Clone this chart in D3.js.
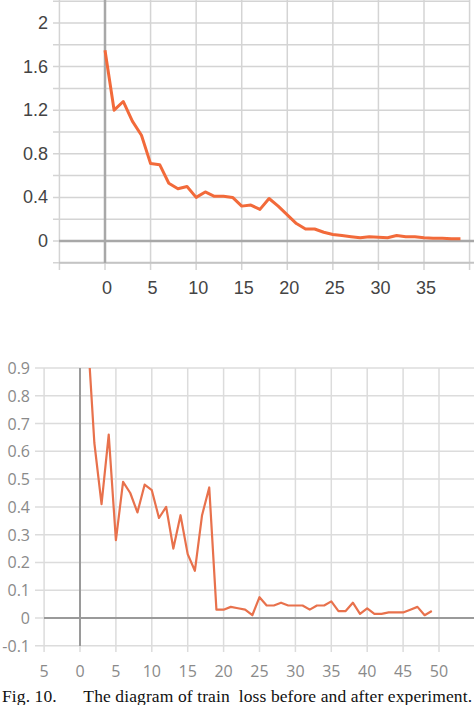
<!DOCTYPE html>
<html><head><meta charset="utf-8">
<script src="https://cdn.jsdelivr.net/npm/d3@7"></script>
<style>body{margin:0;background:#fff}svg{display:block}</style>
</head><body><svg id="svg" width="474" height="705"></svg>
<script>
// loss before the experiment (epochs 0..39)
const lossBefore = [1.75,1.2,1.28,1.1,0.97,0.71,0.7,0.53,0.48,0.5,0.4,0.45,0.41,0.41,0.4,0.32,0.33,0.29,0.39,0.32,
  0.24,0.16,0.11,0.11,0.08,0.06,0.05,0.04,0.03,0.04,0.035,0.03,0.05,0.04,0.04,0.03,0.025,0.025,0.02,0.02];
// loss after the experiment (epochs 1..49)
const lossAfter = [1.05,0.63,0.41,0.66,0.28,0.49,0.45,0.38,0.48,0.46,0.36,0.4,0.25,0.37,0.23,0.17,0.37,0.47,0.03,
  0.03,0.04,0.035,0.03,0.01,0.075,0.045,0.045,0.055,0.045,0.045,0.045,0.03,0.045,0.045,0.06,0.025,0.025,0.055,0.015,
  0.035,0.015,0.015,0.02,0.02,0.02,0.03,0.04,0.01,0.025];
const topYTicks = [0,0.4,0.8,1.2,1.6,2];
const topXTicks = [0,5,10,15,20,25,30,35];
const botYTicks = [-0.1,0,0.1,0.2,0.3,0.4,0.5,0.6,0.7,0.8,0.9];
const botXTicks = [-5,0,5,10,15,20,25,30,35,40,45,50,55];
const caption = "Fig. 10.      The diagram of train  loss before and after experiment.";

const svg = d3.select("#svg");

//Верхний график
const x1 = d3.scaleLinear().domain([0, 35]).range([105, 424]);
const y1 = d3.scaleLinear().domain([0, 2]).range([241, 23]);
const g1 = svg.append("g");
d3.range(-0.2, 2.3, 0.2).forEach(v => {
    g1.append("line").attr("x1", 53).attr("x2", 469).attr("y1", y1(v)).attr("y2", y1(v))
        .attr("stroke", "#d4d4d4").attr("stroke-width", 1.5);
});
d3.range(-5, 41, 5).forEach(v => {
    g1.append("line").attr("x1", x1(v)).attr("x2", x1(v)).attr("y1", 0).attr("y2", 270)
        .attr("stroke", "#d4d4d4").attr("stroke-width", 1.5);
});
g1.append("line").attr("x1", 59).attr("x2", 474).attr("y1", y1(0)).attr("y2", y1(0)).attr("stroke", "#a8a8a8").attr("stroke-width", 2.5);
g1.append("line").attr("x1", 59).attr("x2", 474).attr("y1", y1(-0.2)).attr("y2", y1(-0.2)).attr("stroke", "#c4c4c4").attr("stroke-width", 2);
g1.append("line").attr("x1", x1(0)).attr("x2", x1(0)).attr("y1", 0).attr("y2", 263).attr("stroke", "#a8a8a8").attr("stroke-width", 2.5);
g1.selectAll(".yt").data(topYTicks).enter().append("text")
    .attr("x", 48).attr("y", d => y1(d) + 6).attr("text-anchor", "end")
    .attr("font-family", "Liberation Sans, Arial").attr("font-size", 18).attr("fill", "#444")
    .text(d => d);
g1.selectAll(".xt").data(topXTicks).enter().append("text")
    .attr("x", d => x1(d) + 2).attr("y", 294).attr("text-anchor", "middle")
    .attr("font-family", "Liberation Sans, Arial").attr("font-size", 18).attr("fill", "#444")
    .text(d => d);
g1.append("path").datum(lossBefore)
    .attr("fill", "none").attr("stroke", "#f26a3a").attr("stroke-width", 3).attr("stroke-linejoin", "round")
    .attr("d", d3.line().x((d, i) => x1(i)).y(d => y1(d)));

//Нижний график
const x2 = d3.scaleLinear().domain([0, 50]).range([80, 439]);
const y2 = d3.scaleLinear().domain([0, 0.9]).range([618, 368]);
const g2 = svg.append("g");
svg.append("clipPath").attr("id", "clip2").append("rect").attr("x", 0).attr("y", 368).attr("width", 474).attr("height", 280);
botYTicks.forEach(v => {
    g2.append("line").attr("x1", 35).attr("x2", 474).attr("y1", y2(v)).attr("y2", y2(v))
        .attr("stroke", "#dcdcdc").attr("stroke-width", 1.5);
});
botXTicks.forEach(v => {
    g2.append("line").attr("x1", x2(v)).attr("x2", x2(v)).attr("y1", 368).attr("y2", 652)
        .attr("stroke", "#dcdcdc").attr("stroke-width", 1.5);
});
g2.append("line").attr("x1", 44).attr("x2", 474).attr("y1", y2(0)).attr("y2", y2(0)).attr("stroke", "#9a9a9a").attr("stroke-width", 2);
g2.append("line").attr("x1", x2(0)).attr("x2", x2(0)).attr("y1", 368).attr("y2", 646).attr("stroke", "#9a9a9a").attr("stroke-width", 2);
g2.selectAll(".yt").data(botYTicks).enter().append("text")
    .attr("x", 30).attr("y", d => y2(d) + 6).attr("text-anchor", "end")
    .attr("font-family", "Open Sans, sans-serif").attr("font-size", 16).attr("fill", "#8a8a8a")
    .text(d => d);
g2.selectAll(".xt").data(botXTicks.slice(0, -1)).enter().append("text")
    .attr("x", d => x2(d)).attr("y", 677).attr("text-anchor", "middle")
    .attr("font-family", "Open Sans, sans-serif").attr("font-size", 16).attr("fill", "#8a8a8a")
    .text(d => Math.abs(d));
g2.append("path").datum(lossAfter).attr("clip-path", "url(#clip2)")
    .attr("fill", "none").attr("stroke", "#e8714c").attr("stroke-width", 2.2).attr("stroke-linejoin", "round")
    .attr("d", d3.line().x((d, i) => x2(i + 1)).y(d => y2(d)));

svg.append("text").attr("x", 2).attr("y", 702).attr("xml:space", "preserve")
    .attr("font-family", "Liberation Serif, Times New Roman").attr("font-size", 17.5).attr("fill", "#111")
    .attr("textLength", 470)
    .text(caption);
</script></body></html>
